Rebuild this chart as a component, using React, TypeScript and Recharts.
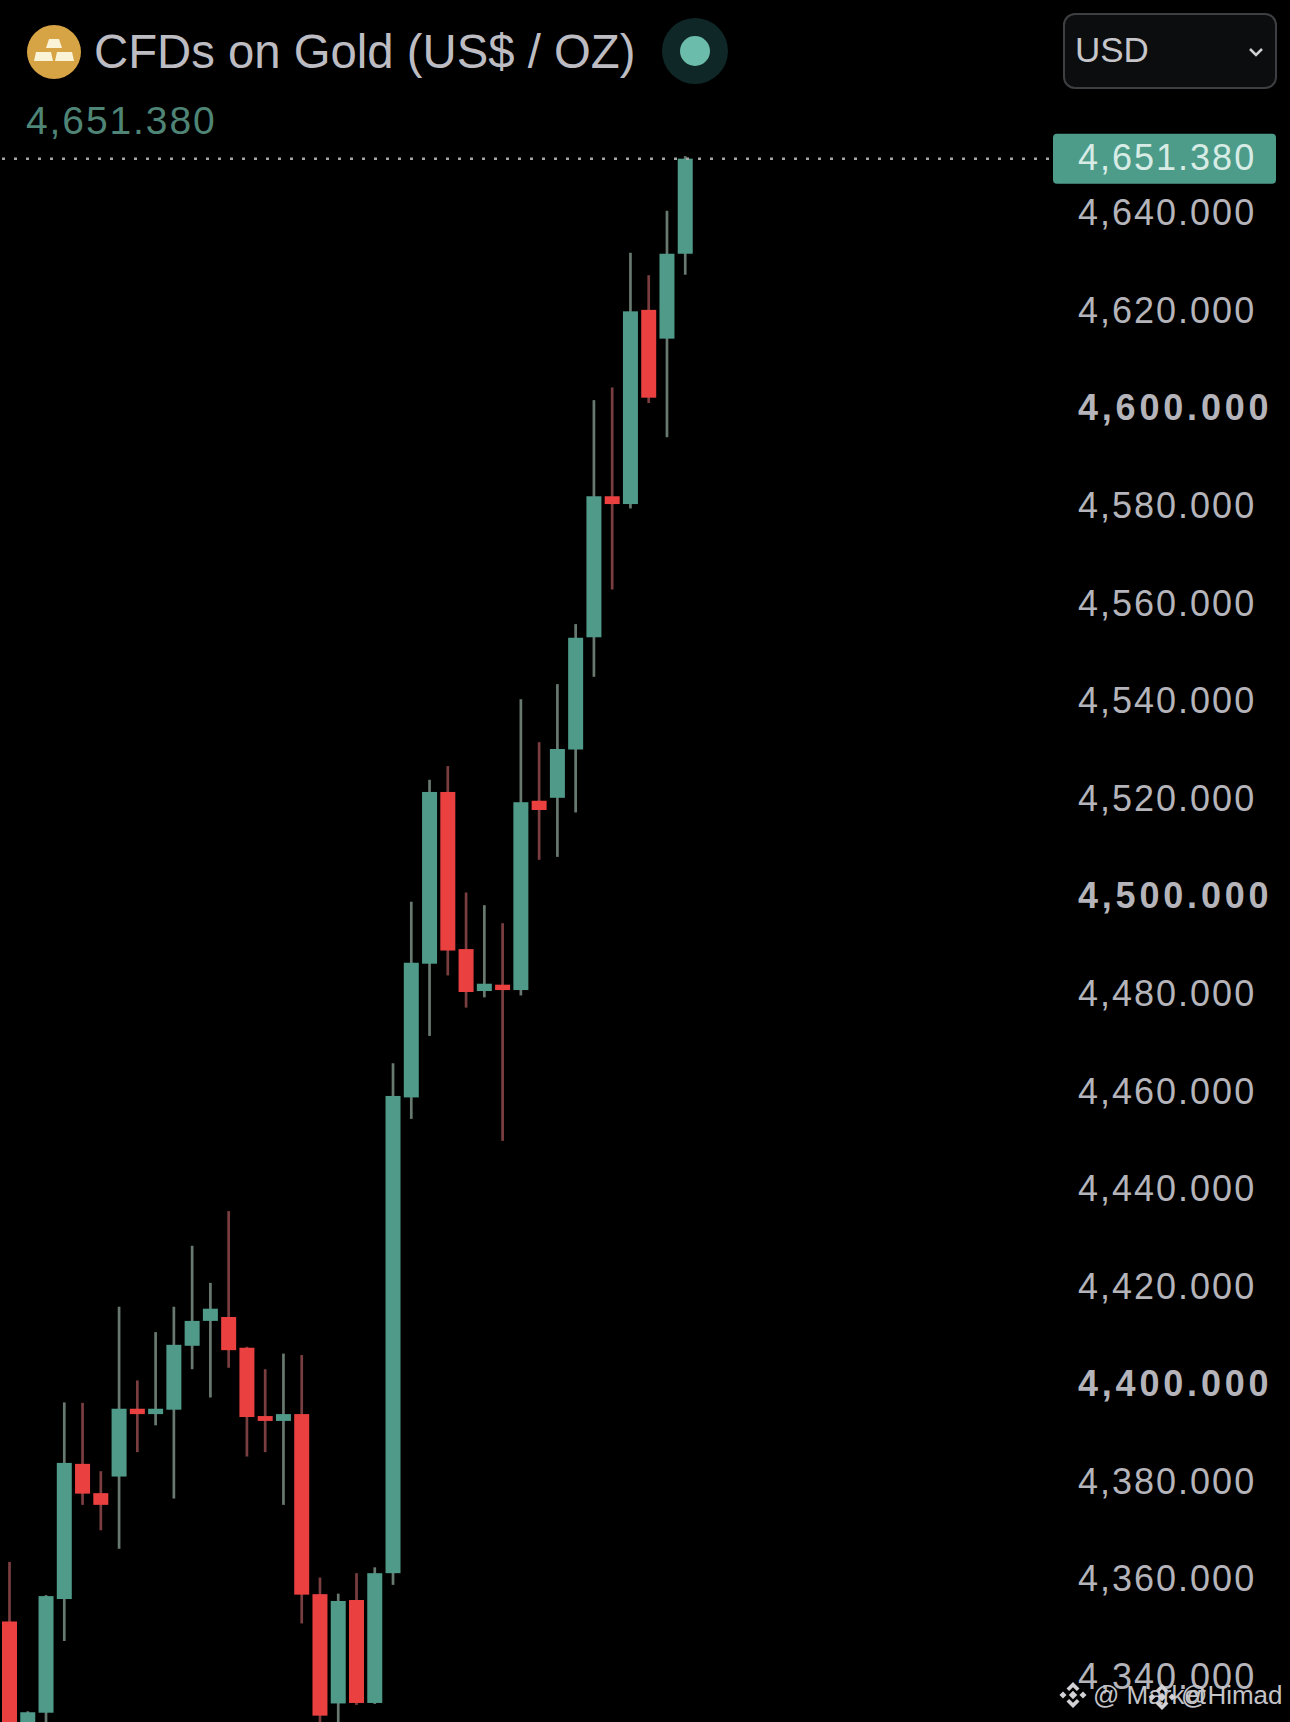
import React from 'react';
import { BarChart, Bar, XAxis, YAxis, ReferenceLine } from 'recharts';

// candles, oldest first
const opens = [4351.6, 4322, 4332.9, 4356.2, 4383.9, 4377.9, 4381.3, 4395.2, 4394.1, 4395.0, 4408.1, 4413.2, 4414.0, 4407.7, 4393.7, 4392.7, 4394.1, 4357.2, 4334.8, 4356.0, 4334.9, 4361.5, 4459.0, 4486.4, 4521.6, 4489.4, 4480.8, 4482.1, 4481.0, 4519.8, 4520.4, 4530.3, 4553.3, 4582.2, 4580.6, 4620.4, 4614.5, 4631.9];
const closes = [4325, 4333, 4356.8, 4384.1, 4377.8, 4375.5, 4395.2, 4394.1, 4395.2, 4408.3, 4413.2, 4415.7, 4407.2, 4393.5, 4392.7, 4394.1, 4357.1, 4332.3, 4355.8, 4334.9, 4361.5, 4459.3, 4486.6, 4521.6, 4489.1, 4480.6, 4482.3, 4481.0, 4519.5, 4517.9, 4530.4, 4553.2, 4582.2, 4580.6, 4620.1, 4602.4, 4631.9, 4651.38];
const highs = [4363.8, 4333.2, 4357.0, 4396.5, 4396.4, 4382.4, 4416.1, 4401.0, 4410.9, 4416.1, 4428.6, 4421.0, 4435.7, 4407.9, 4403.3, 4406.5, 4406.2, 4360.6, 4357.3, 4361.5, 4362.7, 4466.0, 4499.1, 4524.1, 4526.9, 4501.0, 4498.4, 4494.7, 4540.6, 4531.8, 4543.7, 4556.0, 4601.9, 4604.5, 4632.1, 4627.5, 4640.7, 4651.9];
const lows = [4320, 4318, 4325, 4347.6, 4375.5, 4370.3, 4366.5, 4386.3, 4391.8, 4376.8, 4403.3, 4397.5, 4403.6, 4385.4, 4386.3, 4375.5, 4351.2, 4329, 4325, 4334.5, 4334.7, 4359.1, 4454.6, 4471.6, 4484.0, 4477.4, 4479.5, 4450.1, 4479.9, 4507.7, 4508.3, 4517.4, 4545.2, 4563.1, 4579.7, 4601.3, 4594.3, 4627.6];

const priceTicks = [4340, 4360, 4380, 4400, 4420, 4440, 4460, 4480, 4500, 4520, 4540, 4560, 4580, 4600, 4620, 4640];
const lastPrice = 4651.38;

const candles = opens.map((open, i) => ({
  name: String(i),
  open,
  close: closes[i],
  high: highs[i],
  low: lows[i],
}));

const GREEN = '#4f9a89';
const RED = '#ea4040';
const GREEN_WICK = '#68796f';
const RED_WICK = '#7a3e40';
const FONT = '"Liberation Sans", Arial, sans-serif';

const fmt = (v: number) =>
  v.toLocaleString('en-US', { minimumFractionDigits: 3, maximumFractionDigits: 3 });

const Candle = (props: any) => {
  const { x, y, width, height, payload } = props;
  const { open, close, high, low } = payload;
  const cx = x + width / 2;
  const perUnit = height / (high - low);
  const yOf = (v: number) => y + (high - v) * perUnit;
  const up = close >= open;
  const top = yOf(Math.max(open, close));
  const bottom = yOf(Math.min(open, close));
  return (
    <g>
      <rect x={cx - 1.35} y={y} width={2.7} height={height} fill={up ? GREEN_WICK : RED_WICK} />
      <rect x={cx - 7.5} y={top} width={15} height={Math.max(bottom - top, 1)} fill={up ? GREEN : RED} />
    </g>
  );
};

const PriceTick = (props: any) => {
  const { x, y, payload } = props;
  const bold = payload.value % 100 === 0;
  return (
    <text
      x={x + 21}
      y={y - 1.5}
      dominantBaseline="central"
      fontFamily={FONT}
      fontSize={36}
      fontWeight={bold ? 700 : 400}
      letterSpacing={bold ? 3.8 : 2}
      fill="#b4b4ba"
    >
      {fmt(payload.value)}
    </text>
  );
};

const PriceTag = (props: any) => {
  const { viewBox } = props;
  const right = viewBox.x + viewBox.width;
  const y = viewBox.y;
  return (
    <g>
      <rect x={right + 4} y={y - 25} width={223} height={50} rx={4} fill="#4d9c8a" />
      <text
        x={right + 29}
        y={y - 1}
        dominantBaseline="central"
        fontFamily={FONT}
        fontSize={36}
        letterSpacing={2}
        fill="#d8ece6"
      >
        {fmt(lastPrice)}
      </text>
    </g>
  );
};

const BinanceMark = ({ x, y }: { x: number; y: number }) => (
  <svg width={28} height={28} viewBox="0 0 28 28" style={{ position: 'absolute', left: x - 14, top: y - 14 }}>
    <g fill="#d2d2d6">
      <path d="M14 1l6.5 6.5-2.6 2.6L14 6.2l-3.9 3.9-2.6-2.6z" />
      <path d="M14 27l6.5-6.5-2.6-2.6-3.9 3.9-3.9-3.9-2.6 2.6z" />
      <rect x="1.5" y="11.5" width="5" height="5" transform="rotate(45 4 14)" />
      <rect x="21.5" y="11.5" width="5" height="5" transform="rotate(45 24 14)" />
      <rect x="11" y="11" width="6" height="6" transform="rotate(45 14 14)" />
    </g>
  </svg>
);

const abs = (left: number, top: number): React.CSSProperties => ({
  position: 'absolute',
  left,
  top,
  fontFamily: FONT,
  whiteSpace: 'nowrap',
  lineHeight: 1,
});

export default function App() {
  return (
    <div style={{ position: 'absolute', left: 0, top: 0, width: 1290, height: 1722, background: '#000', overflow: 'hidden' }}>
      <BarChart
        width={1290}
        height={1722}
        data={candles}
        margin={{ top: 0, right: 0, bottom: 0, left: 0 }}
        style={{ position: 'absolute', left: 0, top: 0 }}
      >
        <XAxis dataKey="name" hide padding={{ left: 0, right: 355 }} />
        <YAxis
          orientation="right"
          width={241}
          type="number"
          domain={[4331, 4683.9]}
          allowDataOverflow
          ticks={priceTicks}
          interval={0}
          axisLine={false}
          tickLine={false}
          tick={PriceTick}
        />
        <Bar
          dataKey={(d: any) => [d.low, d.high]}
          barSize={15}
          shape={Candle}
          isAnimationActive={false}
        />
        <ReferenceLine
          y={lastPrice}
          stroke="#a4a6a6"
          strokeWidth={2.5}
          strokeDasharray="3 9"
          label={PriceTag}
        />
      </BarChart>

      {/* header */}
      <svg width={56} height={56} viewBox="0 0 56 56" style={{ position: 'absolute', left: 26, top: 24 }}>
        <circle cx="28" cy="28" r="27" fill="#d6a445" />
        <g fill="#fbf3d8">
          <path d="M23 15h10l3 9H20z" />
          <path d="M10 28h15l2 9H8z" />
          <path d="M31 28h15l2 9H29z" />
        </g>
      </svg>
      <div style={{ ...abs(94, 28), fontSize: 47.3, color: '#bcbcc2' }}>CFDs on Gold (US$ / OZ)</div>
      <div style={{ position: 'absolute', left: 662, top: 18, width: 66, height: 66, borderRadius: '50%', background: '#0f2727' }} />
      <div style={{ position: 'absolute', left: 680, top: 36, width: 30, height: 30, borderRadius: '50%', background: '#6cbcab' }} />
      <div style={{ ...abs(26, 101), fontSize: 39, letterSpacing: 1.9, color: '#4f8576' }}>{fmt(lastPrice)}</div>

      <div
        style={{
          position: 'absolute',
          left: 1063,
          top: 13,
          width: 214,
          height: 76,
          boxSizing: 'border-box',
          border: '2px solid #3d3f42',
          borderRadius: 12,
          background: '#0c0d0e',
        }}
      />
      <div style={{ ...abs(1075, 32), fontSize: 35, color: '#c6c6ca' }}>USD</div>
      <svg width={16} height={10} viewBox="0 0 16 10" style={{ position: 'absolute', left: 1248, top: 47 }}>
        <path d="M2 2l6 6 6-6" fill="none" stroke="#d0d0d4" strokeWidth="2.5" />
      </svg>

      {/* watermark */}
      <BinanceMark x={1073} y={1695} />
      <div style={{ ...abs(1093, 1682), fontSize: 26, color: '#c4c4c8' }}>@ Market</div>
      <BinanceMark x={1162} y={1697} />
      <div style={{ ...abs(1181, 1682), fontSize: 26, color: '#c4c4c8' }}>@Himad</div>
    </div>
  );
}
